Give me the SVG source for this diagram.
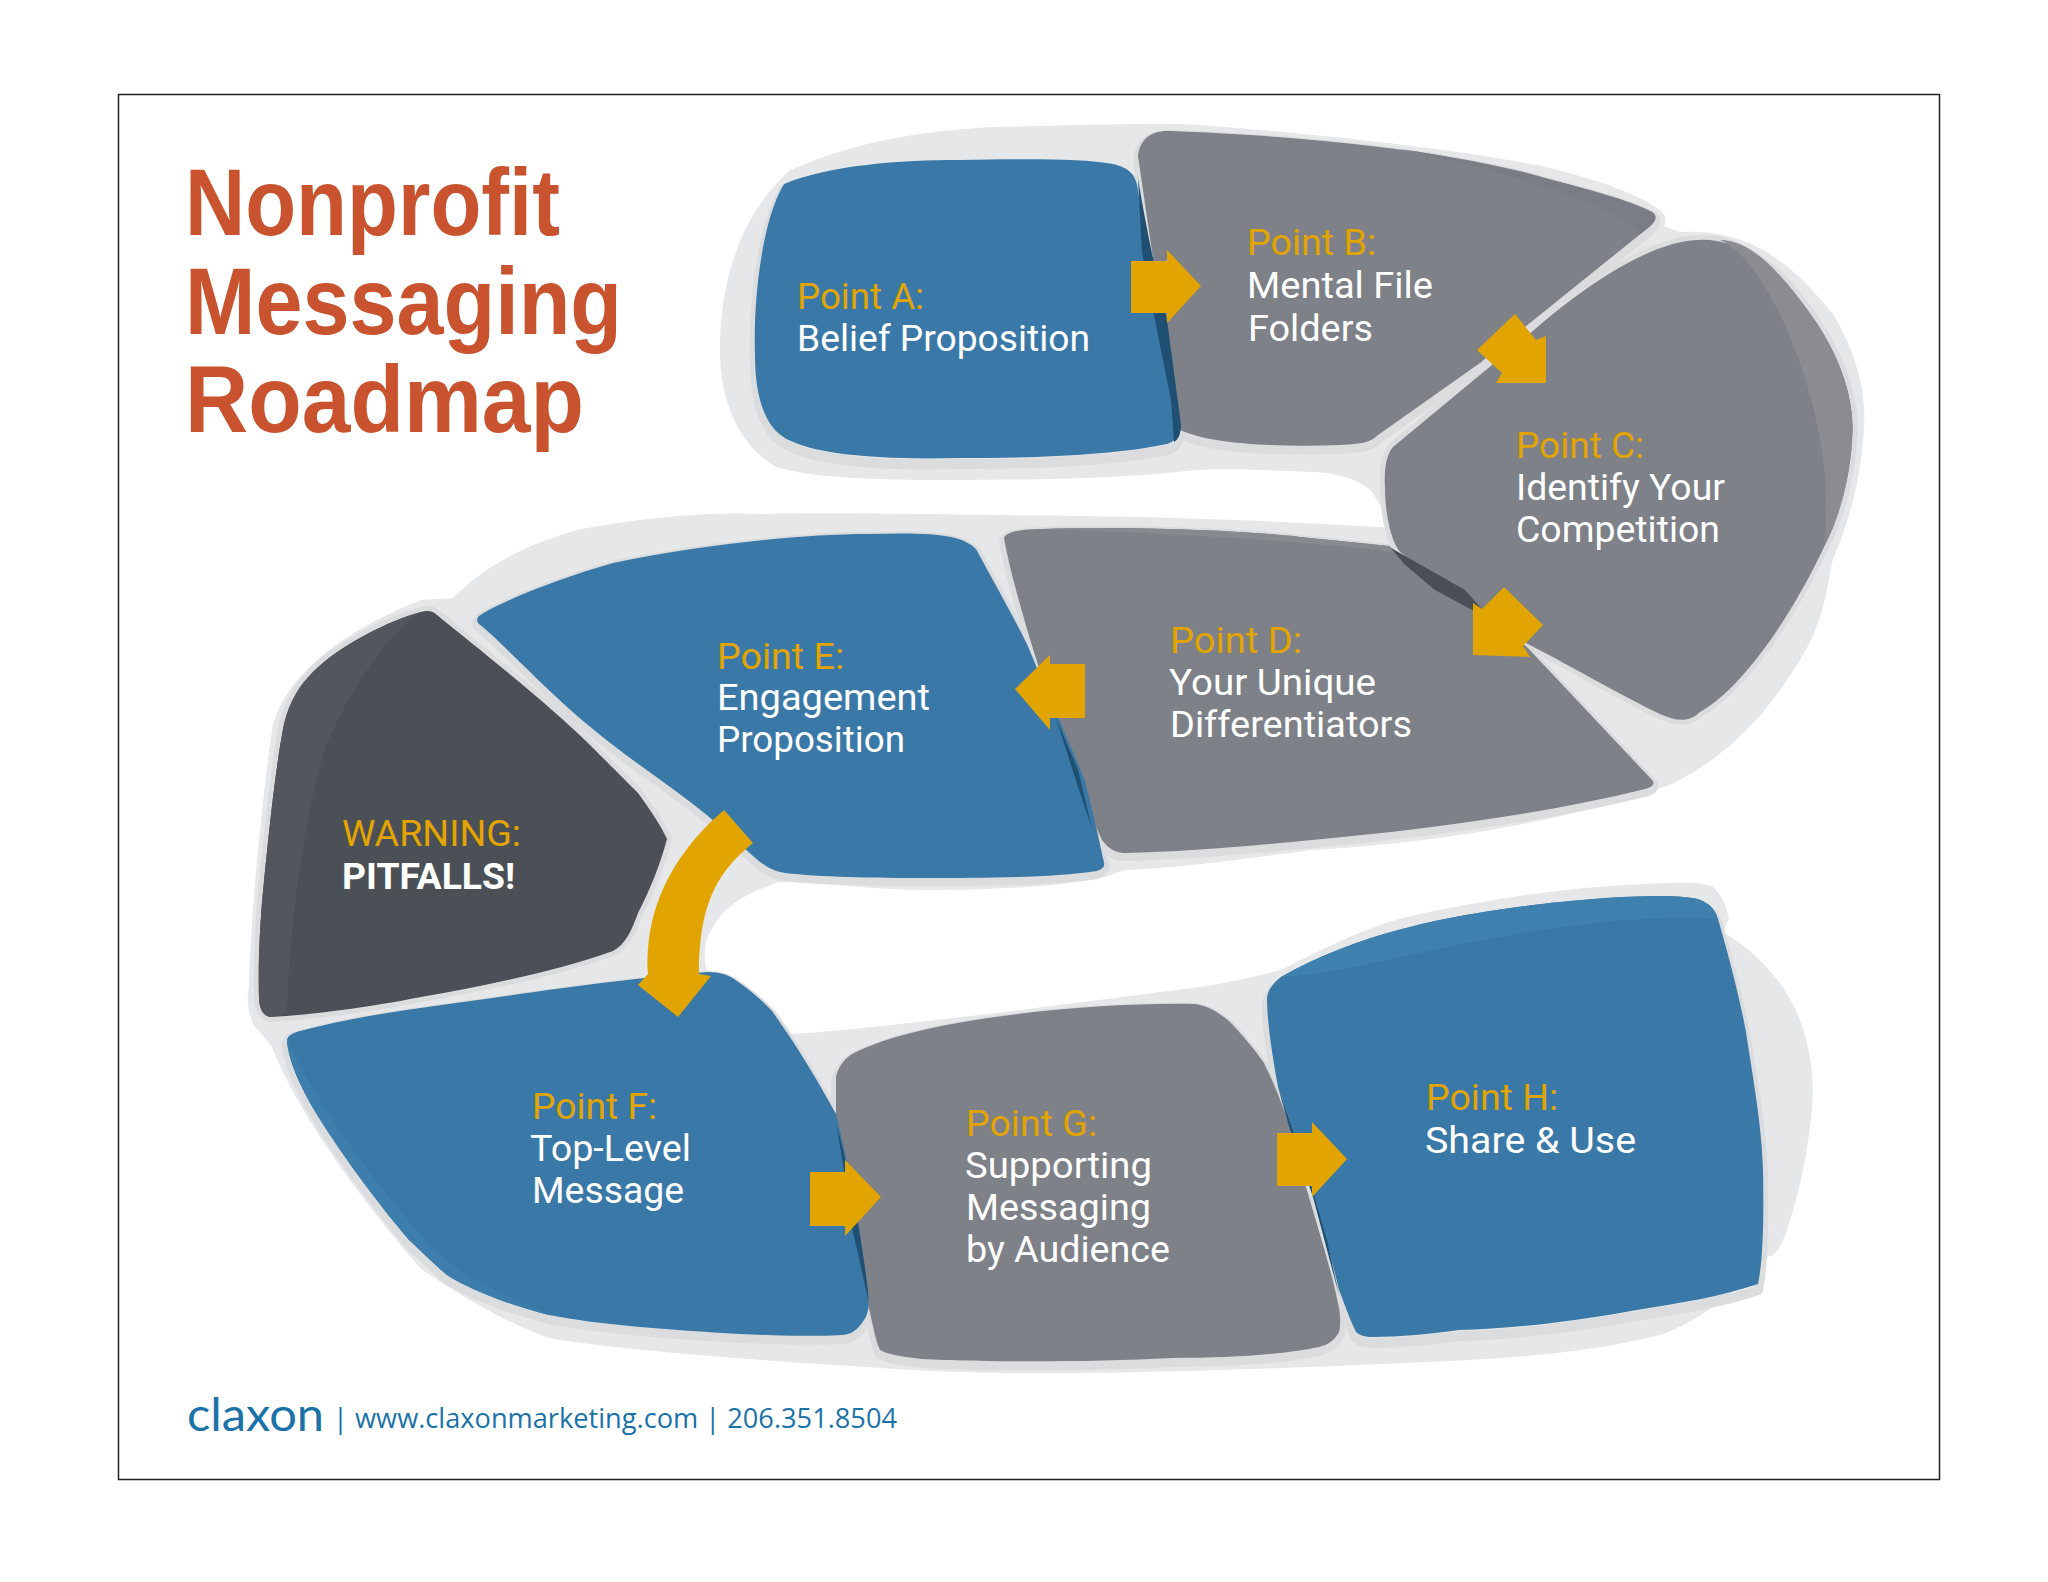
<svg xmlns="http://www.w3.org/2000/svg" xmlns:xlink="http://www.w3.org/1999/xlink" width="2048" height="1582" viewBox="0 0 2048 1582">
<style>
.blue{fill:#3a79a7}.gray{fill:#7e8188}.dark{fill:#4b4f56}
.band{fill:none;stroke:#dbdcde;stroke-width:10;stroke-linejoin:round}
.t{font-family:Roboto,"Liberation Sans",sans-serif;font-size:37px;font-weight:400}
.y{fill:#e2a400}.w{fill:#fff}
.title{font-family:"Liberation Sans",Arial,sans-serif;font-size:94px;font-weight:700;fill:#c9532e}
.arrow{fill:#e2a400}
.foot{font-family:"Open Sans","Noto Sans",sans-serif;fill:#1a72a9}
</style>
<defs>
<path id="pA" d="M784 184 C830 165 900 160 960 160 C1020 159 1080 158 1113 164 C1130 168 1136 175 1138 190 C1148 270 1165 360 1178 427 C1180 436 1176 441 1167 444 C1110 456 1030 458 960 458 C880 460 800 455 777 432 C760 415 755 385 755 355 C753 300 762 220 784 184 Z"/>
<path id="pB" d="M1138 156 C1140 140 1150 130 1170 131 C1290 135 1450 150 1542 177 C1590 190 1630 200 1652 212 C1658 216 1656 222 1648 228 L1480 363 L1378 435 C1372 441 1365 444 1340 445 C1280 447 1210 445 1178 429 Z"/>
<path id="pC" d="M1393 447 L1534 330 C1580 290 1650 240 1700 240 C1730 238 1770 260 1800 300 C1840 350 1856 400 1852 440 C1850 480 1838 520 1825 545 C1790 620 1740 690 1700 712 C1690 722 1678 722 1660 714 C1620 695 1560 660 1526 643 L1469 605 L1400 552 C1390 540 1385 510 1385 488 C1384 470 1386 455 1393 447 Z"/>
<path id="pD" d="M1004 538 C1006 532 1020 529 1044 529 C1120 526 1240 530 1300 537 C1340 541 1370 544 1389 546 L1473 610 L1526 646 L1653 781 C1655 785 1650 788 1645 789 C1540 815 1420 830 1312 840 C1250 846 1180 852 1125 853 C1115 853 1108 848 1102 840 C1090 815 1075 780 1067 758 C1050 700 1015 600 1004 538 Z"/>
<path id="pE" d="M479 616 C504 600 560 578 613 563 C700 545 800 534 868 534 C900 533 935 533 951 537 C965 540 972 545 976 549 C990 575 1010 610 1027 644 C1050 700 1075 755 1085 781 C1095 820 1100 845 1104 862 C1105 868 1102 869 1097 871 C1050 878 980 878 931 878 C870 878 820 877 785 873 C770 871 760 862 753 856 L708 816 C670 785 630 760 594 730 C550 695 500 640 479 624 C476 621 477 618 479 616 Z"/>
<path id="pW" d="M421 612 C428 610 433 611 437 615 C480 650 550 705 590 745 C610 765 625 780 638 793 C652 812 662 828 667 839 C660 865 650 890 638 913 C632 930 625 945 613 951 C560 970 490 985 421 997 C370 1007 310 1015 271 1017 C263 1016 260 1010 259 999 C258 960 260 930 262 902 C268 840 275 770 284 724 C290 700 300 685 313 672 C340 645 390 620 421 612 Z"/>
<path id="pF" d="M287 1040 C288 1035 293 1033 300 1031 C360 1015 420 1008 485 999 C560 988 650 976 708 972 C720 972 728 975 734 979 C750 990 762 1000 772 1011 C800 1050 820 1085 836 1114 C850 1170 862 1240 868 1292 C870 1305 868 1315 864 1320 C858 1330 850 1335 842 1335 C800 1337 770 1335 740 1334 C670 1330 600 1325 549 1315 C510 1305 470 1290 447 1275 C435 1265 420 1250 409 1240 C375 1200 335 1145 313 1108 C300 1085 288 1060 287 1040 Z"/>
<path id="pG" d="M836 1077 C838 1068 843 1060 852 1054 C890 1035 940 1025 995 1017 C1060 1008 1130 1003 1195 1004 C1210 1006 1222 1015 1230 1022 C1245 1038 1255 1050 1264 1063 C1275 1085 1282 1105 1287 1118 C1305 1190 1330 1260 1339 1308 C1341 1320 1340 1330 1339 1332 C1335 1340 1328 1345 1319 1347 C1280 1355 1230 1358 1172 1358 C1100 1362 1000 1362 950 1360 C920 1360 890 1356 880 1350 C875 1340 872 1320 868 1304 C860 1240 848 1160 836 1125 Z"/>
<path id="pH" d="M1267 998 C1268 990 1273 983 1281 977 C1320 955 1360 940 1402 929 C1470 910 1590 896 1660 896 C1685 896 1700 898 1706 903 C1713 907 1716 913 1718 919 C1730 960 1740 1000 1746 1032 C1755 1090 1762 1130 1763 1170 C1764 1220 1763 1260 1758 1284 C1720 1297 1680 1303 1631 1311 C1570 1322 1510 1329 1459 1330 C1430 1334 1400 1337 1373 1337 C1365 1337 1359 1335 1356 1332 C1350 1320 1345 1305 1339 1290 C1325 1230 1300 1150 1278 1087 C1272 1055 1267 1020 1267 998 Z"/>
</defs>
<rect width="2048" height="1582" fill="#fff"/>
<rect x="118.500" y="94.500" width="1821" height="1385" fill="none" stroke="#222" stroke-width="1.500"/>
<g id="title" class="title">
<text x="185" y="235" textLength="375" lengthAdjust="spacingAndGlyphs">Nonprofit</text>
<text x="185" y="334" textLength="437" lengthAdjust="spacingAndGlyphs">Messaging</text>
<text x="185" y="432" textLength="399" lengthAdjust="spacingAndGlyphs">Roadmap</text>
</g>
<g id="halo">
<path fill="#e6e7e9" d="M720 350 C720 290 735 220 790 170 C850 145 900 133 990 127 C1100 125 1160 122 1200 125 C1330 135 1460 150 1542 166 C1600 180 1640 195 1660 210 C1668 218 1666 222 1664 226 L1680 232 C1760 228 1800 275 1833 314 C1860 360 1868 400 1863 440 C1860 480 1850 520 1833 559 C1826 590 1825 620 1800 660 C1775 700 1740 750 1672 784 C1600 810 1480 840 1312 850 C1250 858 1180 868 1125 870 L1116 873 C1090 885 1000 890 931 890 C870 890 820 882 778 882 C745 895 720 905 706 942 C704 955 704 965 708 972 L724 974 C745 990 770 1015 791 1034 C870 1030 1100 1000 1184 989 C1220 985 1260 975 1281 970 C1320 950 1360 930 1402 918 C1480 900 1560 888 1643 884 C1680 882 1700 882 1712 886 C1722 895 1726 905 1729 918 L1723 932 C1770 960 1795 1000 1804 1032 C1812 1060 1814 1080 1812 1110 C1808 1150 1800 1190 1790 1220 C1785 1240 1775 1258 1769 1256 C1730 1300 1690 1325 1660 1335 C1580 1355 1490 1360 1402 1363 C1300 1368 1100 1375 1000 1373 C950 1372 900 1370 868 1367 C750 1360 620 1350 549 1338 C500 1320 460 1295 421 1269 C370 1210 300 1120 271 1045 L255 1027 C248 1015 246 1000 249 988 C250 920 262 800 272 730 C280 690 320 640 421 600 L453 598 C490 560 540 540 581 529 C660 515 720 512 759 514 C850 512 950 515 1083 516 C1200 518 1300 522 1393 528 L1393 523 C1385 515 1381 508 1373 493 C1360 478 1330 472 1312 472 C1260 470 1230 468 1197 470 C1130 478 1040 480 952 480 C880 480 810 478 777 467 C745 450 720 410 720 350 Z"/>
<use href="#pA" class="band" transform="translate(0 6)"/>
<use href="#pB" class="band" transform="translate(0 4)"/>
<use href="#pC" class="band"/>
<use href="#pD" class="band" transform="translate(0 3)"/>
<use href="#pE" class="band" transform="translate(0 3)"/>
<use href="#pW" class="band"/>
<use href="#pF" class="band" transform="translate(0 4)"/>
<use href="#pG" class="band" transform="translate(0 4)"/>
<use href="#pH" class="band" transform="translate(0 6)"/>
</g>
<g id="node-b">
<use href="#pB" class="gray"/>
<path fill="#7a7d84" d="M1400 149 C1480 160 1600 190 1652 212 C1658 216 1656 222 1648 228 L1640 234 C1620 205 1500 170 1400 149 Z"/>
<text class="t y" x="1247" y="255" textLength="129" lengthAdjust="spacingAndGlyphs">Point B:</text>
<text class="t w" x="1247" y="298" textLength="186" lengthAdjust="spacingAndGlyphs">Mental File</text>
<text class="t w" x="1248" y="341" textLength="125" lengthAdjust="spacingAndGlyphs">Folders</text>
</g>
<g id="node-a">
<use href="#pA" class="blue"/>
<path fill="#1f4f72" d="M1138 178 C1148 240 1160 290 1167 320 L1181 425 C1181 434 1178 440 1174 442 L1171 400 L1155 320 L1142 253 Z"/>
<text class="t y" x="797" y="309" textLength="127" lengthAdjust="spacingAndGlyphs">Point A:</text>
<text class="t w" x="797" y="351" textLength="293" lengthAdjust="spacingAndGlyphs">Belief Proposition</text>
</g>
<g id="node-d">
<use href="#pD" class="gray"/>
<path fill="#878a8f" d="M1044 529 C1120 526 1240 530 1300 537 L1389 546 L1392 552 C1300 540 1160 533 1044 529 Z"/>
<text class="t y" x="1170" y="653" textLength="132" lengthAdjust="spacingAndGlyphs">Point D:</text>
<text class="t w" x="1169" y="695" textLength="207" lengthAdjust="spacingAndGlyphs">Your Unique</text>
<text class="t w" x="1170" y="737" textLength="242" lengthAdjust="spacingAndGlyphs">Differentiators</text>
</g>
<g id="node-c">
<use href="#pC" class="gray"/>
<path fill="#8a8c91" d="M1720 240 C1770 262 1825 400 1826 498 L1825 545 C1838 520 1850 480 1852 440 C1856 400 1840 350 1800 300 C1770 260 1745 240 1720 240 Z"/>
<path fill="#4b4e57" d="M1391 548 L1465 590 L1482 609 L1476 612 L1435 590 L1404 564 Z"/>
<text class="t y" x="1516" y="458" textLength="128" lengthAdjust="spacingAndGlyphs">Point C:</text>
<text class="t w" x="1516" y="500" textLength="209" lengthAdjust="spacingAndGlyphs">Identify Your</text>
<text class="t w" x="1516" y="542" textLength="204" lengthAdjust="spacingAndGlyphs">Competition</text>
</g>
<g id="node-e">
<use href="#pE" class="blue"/>
<path fill="#1f4f72" d="M1056 718 L1078 770 L1092 828 L1078 787 Z"/>
<text class="t y" x="717" y="669" textLength="127" lengthAdjust="spacingAndGlyphs">Point E:</text>
<text class="t w" x="717" y="710" textLength="213" lengthAdjust="spacingAndGlyphs">Engagement</text>
<text class="t w" x="717" y="752" textLength="188" lengthAdjust="spacingAndGlyphs">Proposition</text>
</g>
<g id="node-warning">
<use href="#pW" class="dark"/>
<path fill="#52565d" d="M421 612 C380 640 345 700 326 747 C305 810 290 920 287 1013 L271 1017 C263 1016 260 1010 259 999 C258 960 260 930 262 902 C268 840 275 770 284 724 C290 700 300 685 313 672 C340 645 390 620 421 612 Z"/>
<text class="t y" x="342" y="846" textLength="179" lengthAdjust="spacingAndGlyphs">WARNING:</text>
<text class="t w" x="342" y="889" textLength="173" lengthAdjust="spacingAndGlyphs" style="font-weight:700">PITFALLS!</text>
</g>
<g id="node-g">
<use href="#pG" class="gray"/>
<text class="t y" x="966" y="1136" textLength="131" lengthAdjust="spacingAndGlyphs">Point G:</text>
<text class="t w" x="965" y="1178" textLength="187" lengthAdjust="spacingAndGlyphs">Supporting</text>
<text class="t w" x="966" y="1220" textLength="185" lengthAdjust="spacingAndGlyphs">Messaging</text>
<text class="t w" x="966" y="1262" textLength="204" lengthAdjust="spacingAndGlyphs">by Audience</text>
</g>
<g id="node-f">
<use href="#pF" class="blue"/>
<path fill="#3d7eac" d="M287 1040 C288 1060 300 1085 313 1108 C335 1145 375 1200 409 1240 C420 1250 435 1265 447 1275 C470 1290 510 1305 549 1315 C510 1295 470 1285 430 1245 C380 1190 320 1110 287 1040 Z"/>
<path fill="#1f4f72" d="M836 1124 C850 1170 862 1240 868 1292 L868 1300 C862 1270 855 1240 852 1229 C848 1195 842 1155 836 1124 Z"/>
<text class="t y" x="532" y="1119" textLength="125" lengthAdjust="spacingAndGlyphs">Point F:</text>
<text class="t w" x="530" y="1161" textLength="161" lengthAdjust="spacingAndGlyphs">Top-Level</text>
<text class="t w" x="532" y="1203" textLength="152" lengthAdjust="spacingAndGlyphs">Message</text>
</g>
<g id="node-h">
<use href="#pH" class="blue"/>
<path fill="#3e80ae" d="M1281 977 C1320 955 1360 940 1402 929 C1470 910 1590 896 1660 896 C1685 896 1700 898 1706 903 C1713 907 1716 913 1718 919 C1690 915 1600 918 1500 937 C1420 950 1340 975 1281 977 Z"/>
<path fill="#1f4f72" d="M1278 1087 L1290 1130 L1313 1197 L1339 1295 L1327 1240 L1305 1165 Z"/>
<text class="t y" x="1426" y="1110" textLength="132" lengthAdjust="spacingAndGlyphs">Point H:</text>
<text class="t w" x="1425" y="1153" textLength="211" lengthAdjust="spacingAndGlyphs">Share &amp; Use</text>
</g>
<g id="connectors" class="arrow">
<polygon points="1131,261 1167,261 1167,250 1201,286 1167,323 1167,313 1131,313"/>
<polygon points="1515,314 1536,340 1546,336 1546,383 1496,383 1502,373 1477,350"/>
<polygon points="1504,587 1543,625 1523,646 1530,657 1473,655 1473,603 1482,609"/>
<polygon points="1015,689 1050,655 1050,664 1085,664 1085,718 1050,718 1050,730"/>
<path d="M724 810 L753 843 C720 870 699 900 699 974 L711 976 L678 1017 L638 985 L648 974 C645 925 660 865 724 810 Z"/>
<polygon points="810,1172 845,1172 845,1160 881,1197 845,1236 845,1226 810,1226"/>
<polygon points="1277,1133 1312,1133 1312,1122 1347,1159 1312,1197 1312,1186 1277,1186"/>
</g>
<g id="footer" class="foot">
<text x="187" y="1431" font-size="46" textLength="137" lengthAdjust="spacingAndGlyphs" style="font-family:Lato,'Open Sans',sans-serif;font-weight:400">claxon</text>
<text x="333" y="1428" font-size="27" textLength="564" lengthAdjust="spacingAndGlyphs">| www.claxonmarketing.com | 206.351.8504</text>
</g>
</svg>
